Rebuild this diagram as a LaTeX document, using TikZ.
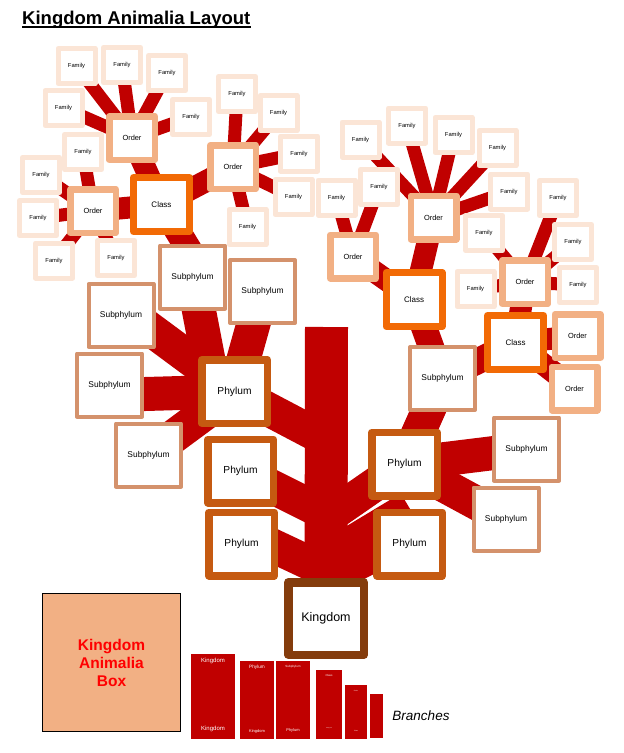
\documentclass[tikz,border=0pt]{standalone}
\usepackage{fontspec}
\setmainfont{Liberation Sans}
\usetikzlibrary{backgrounds}
\definecolor{brc}{HTML}{C00000}
\definecolor{famc}{HTML}{FBE5D6}
\definecolor{ordc}{HTML}{F2B084}
\definecolor{clsc}{HTML}{F26A05}
\definecolor{subc}{HTML}{D4926C}
\definecolor{phyc}{HTML}{C55A11}
\definecolor{kngc}{HTML}{843C0C}
\definecolor{legfill}{HTML}{F2B084}
\begin{document}
\begin{tikzpicture}[x=1pt,y=-1pt,
  box/.style={draw, fill=white, inner sep=0pt, line join=round, align=center},
  fam/.style={box, draw=famc, line width=5pt, minimum width=37pt, minimum height=35pt, font=\fontsize{5.8}{6}\selectfont},
  ord/.style={box, draw=ordc, line width=6.5pt, minimum width=45.5pt, minimum height=43.5pt, font=\fontsize{7.4}{8}\selectfont},
  cls/.style={box, draw=clsc, line width=7pt, minimum width=56pt, minimum height=54pt, font=\fontsize{8}{9}\selectfont},
  sub/.style={box, draw=subc, line width=4pt, minimum width=65pt, minimum height=63pt, font=\fontsize{8.4}{9}\selectfont},
  phy/.style={box, draw=phyc, line width=7.5pt, minimum width=65.5pt, minimum height=63.5pt, font=\fontsize{10.2}{11}\selectfont},
  kng/.style={box, draw=kngc, line width=8.5pt, minimum width=75.5pt, minimum height=72.5pt, font=\fontsize{12.5}{13}\selectfont},
  br/.style={draw=brc, line width=#1},
  bar/.style={fill=brc, inner sep=0pt},
  btxt/.style={text=white, inner sep=0pt, font=\fontsize{#1}{#1}\selectfont}
]
\useasboundingbox (0,0) rectangle (624,753);

% title
\node[anchor=base west, inner sep=0pt, font=\bfseries\fontsize{18.5}{20}\selectfont] (title) at (22,24) {Kingdom Animalia Layout};
\draw[line width=1.6pt] ([yshift=-2.8pt]title.base west) -- ([yshift=-2.8pt]title.base east);

% family boxes
\node[fam] (f1) at (76.5,66) {Family};
\node[fam] (f2) at (122,65) {Family};
\node[fam] (f3) at (167,73) {Family};
\node[fam] (f4) at (63.5,108) {Family};
\node[fam] (f5) at (191,117) {Family};
\node[fam] (f6) at (237,94) {Family};
\node[fam] (f7) at (278.5,113) {Family};
\node[fam] (f8) at (299,153.5) {Family};
\node[fam] (f9) at (293.5,197) {Family};
\node[fam] (f10) at (247.5,227) {Family};
\node[fam] (f11) at (83,152) {Family};
\node[fam] (f12) at (41,175) {Family};
\node[fam] (f13) at (38,218) {Family};
\node[fam] (f14) at (54,260.5) {Family};
\node[fam] (f15) at (116,258) {Family};
\node[fam] (f16) at (336.5,197.5) {Family};
\node[fam] (f17) at (379,187) {Family};
\node[fam] (f18) at (360.5,139.5) {Family};
\node[fam] (f19) at (407,125.5) {Family};
\node[fam] (f20) at (453.5,135) {Family};
\node[fam] (f21) at (497.5,148) {Family};
\node[fam] (f22) at (509,191.5) {Family};
\node[fam] (f23) at (558,198) {Family};
\node[fam] (f24) at (484,233) {Family};
\node[fam] (f25) at (573,242) {Family};
\node[fam] (f26) at (475.5,289) {Family};
\node[fam] (f27) at (578,285) {Family};

% order boxes
\node[ord] (o1) at (132,138) {Order};
\node[ord] (o2) at (233,167) {Order};
\node[ord] (o3) at (93,211) {Order};
\node[ord] (o4) at (353,256.5) {Order};
\node[ord] (o5) at (433.5,217.5) {Order};
\node[ord] (o6) at (525,282) {Order};
\node[ord] (o7) at (577.5,336) {Order};
\node[ord] (o8) at (574.5,388.5) {Order};

% class boxes
\node[cls] (c1) at (161.5,204.5) {Class};
\node[cls] (c2) at (414,299.5) {Class};
\node[cls] (c3) at (515.5,342.5) {Class};

% subphylum boxes
\node[sub] (s1) at (192.5,277) {Subphylum};
\node[sub] (s2) at (262.5,291.5) {Subphylum};
\node[sub] (s3) at (121,315.5) {Subphylum};
\node[sub] (s4) at (109.5,385) {Subphylum};
\node[sub] (s5) at (148.5,455) {Subphylum};
\node[sub] (s6) at (442.5,378.5) {Subphylum};
\node[sub] (s7) at (526.5,449) {Subphylum};
\node[sub] (s8) at (506,519) {Subphylum};

% phylum boxes
\node[phy] (p1) at (234.5,391.5) {Phylum};
\node[phy] (p2) at (240.5,471) {Phylum};
\node[phy] (p3) at (241.5,544) {Phylum};
\node[phy] (p4) at (404.5,464) {Phylum};
\node[phy] (p5) at (409.5,544) {Phylum};

% kingdom
\node[kng] (k) at (326,618.5) {Kingdom};

% trunk junctions
\coordinate (ttop) at (326.5,327);
\coordinate (j1) at (326.5,440);
\coordinate (j2) at (326.5,514);
\coordinate (j3) at (326.5,571);
\coordinate (j4) at (326.5,518);
\coordinate (j5) at (326.5,558);

\begin{scope}[on background layer]
  % trunk
  \draw[br=43pt] (k.center) -- (ttop);
  \fill[brc] (340,560) -- (378,540) -- (378,572) -- (362,580) -- (340,580) -- cycle;
  % kingdom -> phylum
  \draw[br=34pt] (p1.center) -- (j1);
  \draw[br=34pt] (p2.center) -- (j2);
  \draw[br=34pt] ([yshift=13pt]p3.center) -- (j3);
  \draw[br=34pt] (p4.center) -- (j4);
  \draw[br=34pt] ([yshift=36pt]p5.center) -- (j5);
  % phylum -> subphylum
  \draw[br=34pt] ([xshift=-20pt]p1.center) -- (s1.center);
  \draw[br=34pt] (p1.center) -- (s2.center);
  \draw[br=34pt] (p1.center) -- ([yshift=8pt]s3.center);
  \draw[br=34pt] (p1.center) -- ([yshift=-10pt]s4.center);
  \draw[br=34pt] (p1.center) -- (s5.center);
  \draw[br=34pt] (p4.center) -- (s6.center);
  \draw[br=34pt] (p4.center) -- (s7.center);
  \draw[br=34pt] (p4.center) -- (s8.center);
  % subphylum -> class
  \draw[br=26pt] ([xshift=13pt]s1.center) -- (c1.center);
  \draw[br=26pt] (s6.center) -- (c2.center);
  \draw[br=26pt] (s6.center) -- (c3.center);
  % class -> order
  \draw[br=22pt] (c1.center) -- (o1.center);
  \draw[br=22pt] (c1.center) -- (o2.center);
  \draw[br=22pt] (c1.center) -- (o3.center);
  \draw[br=22pt] (c2.center) -- (o4.center);
  \draw[br=22pt] (c2.center) -- (o5.center);
  \draw[br=22pt] (c3.center) -- (o6.center);
  \draw[br=22pt] (c3.center) -- (o7.center);
  \draw[br=22pt] (c3.center) -- (o8.center);
  % order -> family
  \foreach \f in {f1,f2,f3,f4,f5} \draw[br=13pt] (o1.center) -- (\f.center);
  \foreach \f in {f6,f7,f8,f9,f10} \draw[br=13pt] (o2.center) -- (\f.center);
  \foreach \f in {f11,f12,f13,f14,f15} \draw[br=13pt] (o3.center) -- (\f.center);
  \foreach \f in {f16,f17} \draw[br=13pt] (o4.center) -- (\f.center);
  \foreach \f in {f18,f19,f20,f21,f22} \draw[br=13pt] (o5.center) -- (\f.center);
  \foreach \f in {f23,f24,f25,f26,f27} \draw[br=13pt] (o6.center) -- (\f.center);
\end{scope}

% legend box
\node[draw=black, line width=1pt, fill=legfill, minimum width=138pt, minimum height=138pt, inner sep=0pt, align=center, text=red, font=\bfseries\fontsize{15.5}{18}\selectfont] (legend) at (111.5,662.5) {Kingdom\\Animalia\\Box};

% branch legend bars
\node[bar, minimum width=44pt, minimum height=85pt] (b1) at (213,696.5) {};
\node[btxt=6] (b1t) at ([yshift=-7pt]b1.north) {Kingdom};
\node[btxt=6] (b1b) at ([yshift=10pt]b1.south) {Kingdom};
\node[bar, minimum width=34pt, minimum height=78pt] (b2) at (257,700) {};
\node[btxt=4.7] (b2t) at ([yshift=-6pt]b2.north) {Phylum};
\node[btxt=4] (b2b) at ([yshift=8pt]b2.south) {Kingdom};
\node[bar, minimum width=34pt, minimum height=78pt] (b3) at (293,700) {};
\node[btxt=3] (b3t) at ([yshift=-6pt]b3.north) {Subphylum};
\node[btxt=4] (b3b) at ([yshift=9pt]b3.south) {Phylum};
\node[bar, minimum width=26pt, minimum height=69pt] (b4) at (329,704.5) {};
\node[btxt=2.8] (b4t) at ([yshift=-6pt]b4.north) {Class};
\node[btxt=1.2] (b4b) at ([yshift=11pt]b4.south) {Subphylum};
\node[bar, minimum width=22pt, minimum height=54pt] (b5) at (356,712) {};
\node[btxt=1.6] (b5t) at ([yshift=-6pt]b5.north) {Order};
\node[btxt=1.6] (b5b) at ([yshift=8pt]b5.south) {Class};
\node[bar, minimum width=13pt, minimum height=44pt] (b6) at (376.5,716) {};
\node[inner sep=0pt, font=\itshape\fontsize{13.5}{14}\selectfont] (brlbl) at (421,716) {Branches};
\end{tikzpicture}
\end{document}
